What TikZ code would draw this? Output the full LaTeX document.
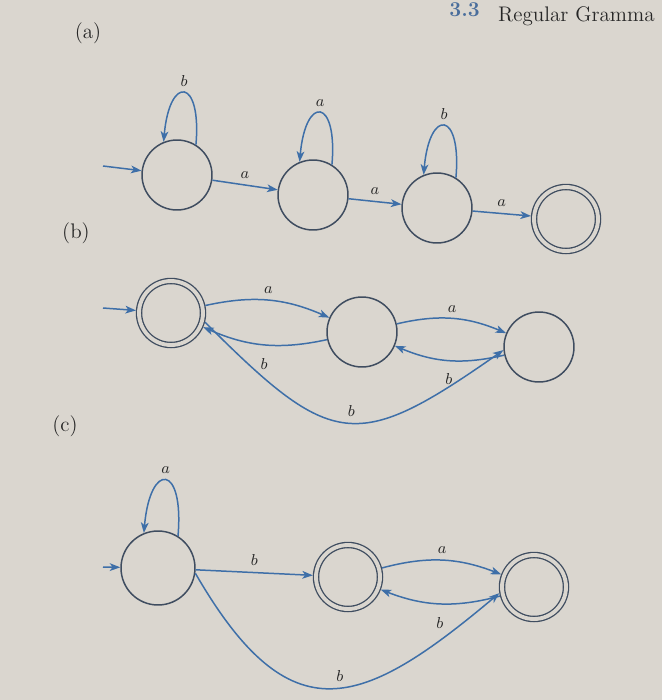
\documentclass[tikz,border=0pt]{standalone}
\usepackage{xcolor}
\usepackage{tikz}
\usetikzlibrary{arrows.meta}

\definecolor{paper}{HTML}{DAD6CF}
\definecolor{edgeblue}{HTML}{3E6FA8}
\definecolor{ringgray}{HTML}{3F4D60}
\definecolor{headblue}{HTML}{4A6E9C}

\begin{document}
\begin{tikzpicture}[x=0.02cm,y=-0.02cm]
\tikzstyle{myarrows}=[-{Stealth[length=6pt,width=4.4pt,inset=1.6pt]},line width=0.85pt,color=edgeblue];
\tikzstyle{state}=[circle,draw=ringgray,line width=0.85pt,minimum size=1.4cm,inner sep=0pt];
\tikzstyle{accept}=[circle,draw=ringgray,line width=0.75pt,double=paper,double distance=2.2pt,minimum size=1.28cm,inner sep=0pt,outer sep=1.8pt];
\tikzstyle{lbl}=[font=\small,text=black!85];
\useasboundingbox (0,0) rectangle (662,700);
\fill[paper] (0,0) rectangle (662,700);
% page head
\node[anchor=base east,text=headblue](sec) at (486,16){\large\bfseries 3.3};
\node[anchor=base west,text=black!85](hdr) at (492,21){\large Regular Gramma};
\node[text=black!85](la) at (88,33){\large (a)};
\node[text=black!85](lb) at (76,233){\large (b)};
\node[text=black!85](lc) at (65,426){\large (c)};
% (a)
\node[state](a1) at (177,175){};
\node[state](a2) at (313,195){};
\node[state](a3) at (437,208){};
\node[accept](a4) at (566,219){};
\coordinate (a0) at (103,166);
\draw [myarrows] (a0) -- (a1);
\draw [myarrows] (a1.58) .. controls +(85:1.35cm) and +(85:1.35cm) .. (a1.112) node[lbl,pos=0.5,above] {$b$};
\draw [myarrows] (a2.58) .. controls +(85:1.35cm) and +(85:1.35cm) .. (a2.112) node[lbl,pos=0.5,above] {$a$};
\draw [myarrows] (a3.58) .. controls +(85:1.35cm) and +(85:1.35cm) .. (a3.112) node[lbl,pos=0.5,above] {$b$};
\draw [myarrows] (a1) -- node[lbl,above] {$a$} (a2);
\draw [myarrows] (a2) -- node[lbl,above] {$a$} (a3);
\draw [myarrows] (a3) -- node[lbl,above] {$a$} (a4);
% (b)
\node[accept](b1) at (171,313){};
\node[state](b2) at (362,332){};
\node[state](b3) at (539,347){};
\coordinate (b0) at (103,308);
\draw [myarrows] (b0) -- (b1);
\draw [myarrows] (b1) to[bend left=18] node[lbl,above] {$a$} (b2);
\draw [myarrows] (b2) to[bend left=18] node[lbl,below=4pt] {$b$} (b1);
\draw [myarrows] (b2) to[bend left=18] node[lbl,above] {$a$} (b3);
\draw [myarrows] (b3) to[bend left=18] node[lbl,below=4pt] {$b$} (b2);
\draw [myarrows] (b1.-15) .. controls +(-45:3.6cm) and +(-145:3.6cm) .. (b3.185) node[lbl,pos=0.52,above] {$b$};
% (c)
\node[state,minimum size=1.48cm](c1) at (158,568){};
\node[accept](c2) at (348,577){};
\node[accept](c3) at (534,587){};
\coordinate (c0) at (103,567);
\draw [myarrows] (c0) -- (c1);
\draw [myarrows] (c1.58) .. controls +(85:1.45cm) and +(85:1.45cm) .. (c1.112) node[lbl,pos=0.5,above] {$a$};
\draw [myarrows] (c1) -- node[lbl,above] {$b$} (c2);
\draw [myarrows] (c2) to[bend left=18] node[lbl,above] {$a$} (c3);
\draw [myarrows] (c3) to[bend left=18] node[lbl,below=4pt] {$b$} (c2);
\draw [myarrows] (c1.-8) .. controls +(-60:3.8cm) and +(-140:3.6cm) .. (c3.190) node[lbl,pos=0.53,above] {$b$};
\end{tikzpicture}
\end{document}
